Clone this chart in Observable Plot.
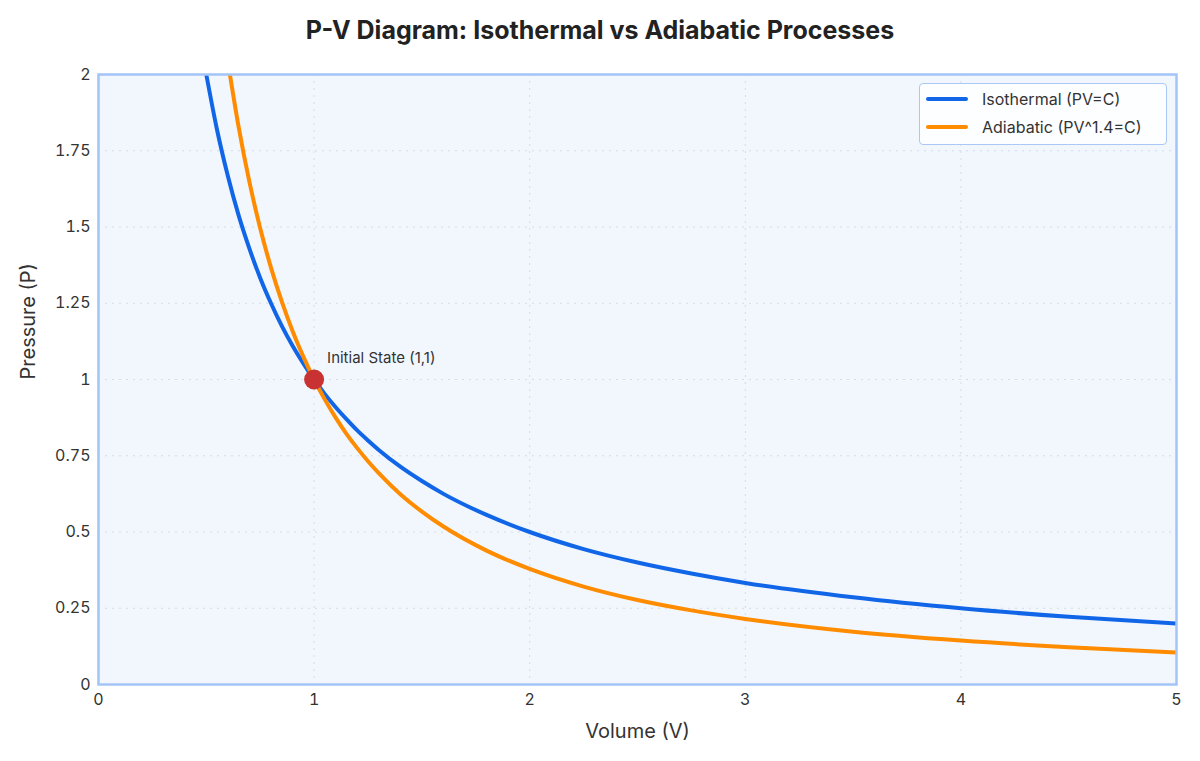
<!DOCTYPE html>
<html><head><meta charset="utf-8">
<script src="https://cdn.jsdelivr.net/npm/d3@7"></script>
<script src="https://cdn.jsdelivr.net/npm/@observablehq/plot@0.6"></script>
<style>
body{margin:0;background:#fff;font-family:Inter,"Noto Sans",sans-serif;}
#wrap{position:relative;width:1200px;height:761px;}
#title{position:absolute;left:0;top:15px;width:1200px;text-align:center;font-size:25px;font-weight:700;color:#222;}
#chart{position:absolute;left:0;top:60px;}
#legend{position:absolute;left:919px;top:83px;width:248px;height:62px;border:1.5px solid #a9c8f5;border-radius:4px;background:rgba(255,255,255,0.85);box-sizing:border-box;font-size:16px;color:#333;}
.row{position:absolute;left:6px;display:flex;align-items:center;}
.sw{width:42px;height:4px;border-radius:2px;margin-right:14px;}
</style></head><body>
<div id="wrap">
<div id="title">P-V Diagram: Isothermal vs Adiabatic Processes</div>
<div id="chart"></div>
<div id="legend">
 <div class="row" style="top:5px"><div class="sw" style="background:#1166e8"></div><span>Isothermal (PV=C)</span></div>
 <div class="row" style="top:33px"><div class="sw" style="background:#ff8c00"></div><span>Adiabatic (PV^1.4=C)</span></div>
</div>
</div>
<script>
const isoV = [0.5,0.55,0.6,0.65,0.7,0.75,0.8,0.85,0.9,0.95,1,1.05,1.1,1.15,1.2,1.25,1.3,1.4,1.5,1.6,1.8,2,2.25,2.5,2.75,3,3.5,4,4.5,5];
const isoP = [2,1.818,1.667,1.538,1.429,1.333,1.25,1.176,1.111,1.053,1,0.952,0.909,0.870,0.833,0.8,0.769,0.714,0.667,0.625,0.556,0.5,0.444,0.4,0.364,0.333,0.286,0.25,0.222,0.2];
const adiV = [0.61,0.65,0.675,0.7,0.725,0.75,0.8,0.85,0.9,0.95,1,1.05,1.1,1.15,1.2,1.25,1.3,1.4,1.5,1.6,1.8,2,2.25,2.5,2.75,3,3.5,4,4.5,5];
const adiP = [1.998,1.828,1.734,1.648,1.569,1.496,1.367,1.256,1.159,1.075,1,0.934,0.875,0.822,0.775,0.732,0.693,0.624,0.567,0.518,0.439,0.379,0.321,0.277,0.243,0.215,0.173,0.144,0.122,0.105];
const xTicks = [0,1,2,3,4,5];
const yTicks = [0,0.25,0.5,0.75,1,1.25,1.5,1.75,2];
const initial = [{V:1,P:1,label:"Initial State (1,1)"}];

const iso = isoV.map((v,i)=>({V:v,P:isoP[i]}));
const adi = adiV.map((v,i)=>({V:v,P:adiP[i]}));

const chart = Plot.plot({
  width:1200, height:701,
  marginLeft:98, marginRight:24, marginTop:14, marginBottom:77,
  style:{fontFamily:"Inter, 'Noto Sans', sans-serif", fontSize:"16px", color:"#333", background:"transparent"},
  x:{domain:[0,5]},
  y:{domain:[0,2]},
  marks:[
    Plot.frame({fill:"#f2f7fe", stroke:null}),
    Plot.gridX(xTicks, {stroke:"#d3dce8", strokeOpacity:1, strokeDasharray:"2,5"}),
    Plot.gridY(yTicks, {stroke:"#d3dce8", strokeOpacity:1, strokeDasharray:"2,5"}),
    Plot.axisX({ticks:xTicks, tickSize:0, tickPadding:9, fontSize:16, fill:"#333", label:null, tickFormat:d=>String(d)}),
    Plot.axisY({ticks:yTicks, tickSize:0, tickPadding:8, fontSize:16, fill:"#333", label:null, tickFormat:d=>String(d)}),
    Plot.line(iso, {x:"V", y:"P", stroke:"#1166e8", strokeWidth:4, curve:"monotone-x", clip:true}),
    Plot.line(adi, {x:"V", y:"P", stroke:"#ff8c00", strokeWidth:4, curve:"monotone-x", clip:true}),
    Plot.dot(initial, {x:"V", y:"P", r:10, fill:"#c83232", stroke:"none"}),
    Plot.text(initial, {x:"V", y:"P", text:"label", dx:13, dy:-21, textAnchor:"start", fontSize:15, fill:"#333"}),
    Plot.frame({stroke:"#a3c4f7", strokeWidth:2.5, fill:null}),
    Plot.text(["Volume (V)"], {frameAnchor:"bottom", dy:53, fontSize:20, fill:"#333"}),
    Plot.text(["Pressure (P)"], {frameAnchor:"left", dx:-70, rotate:-90, fontSize:20, fill:"#333"})
  ]
});
document.getElementById("chart").appendChild(chart);
</script>
</body></html>
